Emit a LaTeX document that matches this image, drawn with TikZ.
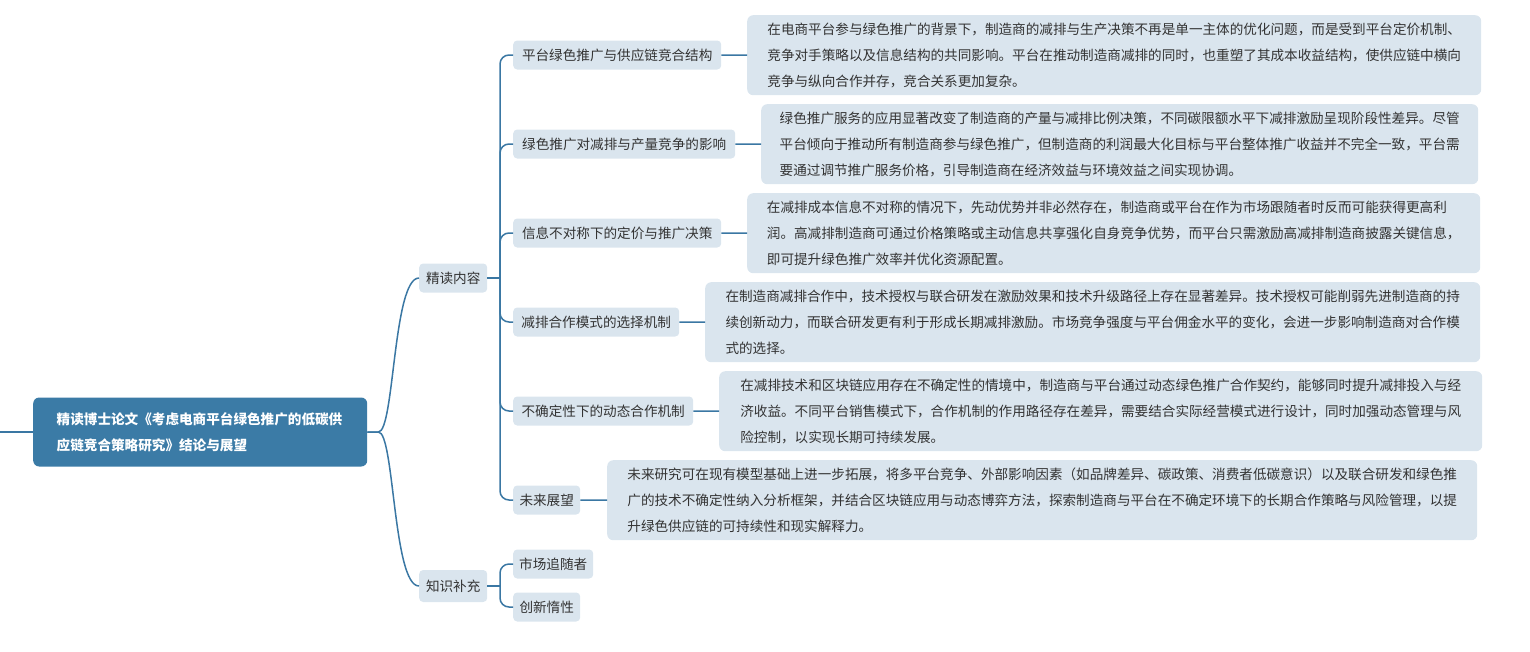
\documentclass[tikz,border=0pt]{standalone}
\usepackage{fontspec}
\setmainfont{Noto Sans CJK SC}
\begin{document}
\begin{tikzpicture}[x=1pt,y=-1pt,
  every node/.style={font=\fontsize{13.6}{26}\selectfont, text=txt, inner sep=0pt},
  l2/.style={fill=boxc, rounded corners=4pt, minimum height=29pt, anchor=west, align=center},
  det/.style={fill=boxc, rounded corners=6pt, anchor=north west, align=left, minimum height=80pt, inner xsep=7pt},
  conn/.style={draw=linec, line width=1.5pt}]
\definecolor{boxc}{HTML}{DAE5EE}
\definecolor{linec}{HTML}{3A77A3}
\definecolor{rootc}{HTML}{3B7BA6}
\definecolor{txt}{HTML}{333333}
\useasboundingbox (0,0) rectangle (1530,651);
% root
\node[fill=rootc, rounded corners=6pt, minimum width=334pt, minimum height=69pt, anchor=west, text=white, align=left, font=\fontsize{13.6}{26}\selectfont\bfseries] (root) at (33,432)
 {精读博士论文《考虑电商平台绿色推广的低碳供\\应链竞合策略研究》结论与展望\hspace*{7.1em}};
\coordinate (lend) at (0,432);
\draw[conn] (lend) -- (root.west);
% level1
\node[l2, minimum width=68pt] (k1) at (419,278) {精读内容};
\node[l2, minimum width=68pt, minimum height=32pt] (k2) at (419,586) {知识补充};
\draw[conn] (root.east) -- ++(11,0) .. controls +(16,0) and +(-26,0) .. (k1.west);
\draw[conn] (root.east) -- ++(11,0) .. controls +(16,0) and +(-26,0) .. (k2.west);
% level2
\node[l2, minimum width=208pt] (a1) at (513,55) {平台绿色推广与供应链竞合结构};
\node[l2, minimum width=222pt] (a2) at (513,144) {绿色推广对减排与产量竞争的影响};
\node[l2, minimum width=208pt] (a3) at (513,233) {信息不对称下的定价与推广决策};
\node[l2, minimum width=166pt] (a4) at (513,322) {减排合作模式的选择机制};
\node[l2, minimum width=180pt] (a5) at (513,411) {不确定性下的动态合作机制};
\node[l2, minimum width=67pt] (a6) at (513,500) {未来展望};
\node[l2, minimum width=80pt] (c1) at (513,564) {市场追随者};
\node[l2, minimum width=67pt] (c2) at (513,607) {创新惰性};
\coordinate (s1) at (500,278);
\coordinate (s2) at (500,586);
\draw[conn] (k1.east) -- (s1);
\draw[conn] (k2.east) -- (s2);
\foreach \n in {a1,a2,a3,a4,a5,a6} \draw[conn, rounded corners=9pt] (s1) |- (\n.west);
\foreach \n in {c1,c2} \draw[conn, rounded corners=9pt] (s2) |- (\n.west);
% details
\node[det, minimum width=734pt] (d1) at (747,15) {在电商平台参与绿色推广的背景下，制造商的减排与生产决策不再是单一主体的优化问题，而是受到平台定价机制、\\竞争对手策略以及信息结构的共同影响。平台在推动制造商减排的同时，也重塑了其成本收益结构，使供应链中横向\\竞争与纵向合作并存，竞合关系更加复杂。};
\node[det, minimum width=717pt] (d2) at (761,104) {绿色推广服务的应用显著改变了制造商的产量与减排比例决策，不同碳限额水平下减排激励呈现阶段性差异。尽管\\平台倾向于推动所有制造商参与绿色推广，但制造商的利润最大化目标与平台整体推广收益并不完全一致，平台需\\要通过调节推广服务价格，引导制造商在经济效益与环境效益之间实现协调。};
\node[det, minimum width=733pt] (d3) at (747,193) {在减排成本信息不对称的情况下，先动优势并非必然存在，制造商或平台在作为市场跟随者时反而可能获得更高利\\润。高减排制造商可通过价格策略或主动信息共享强化自身竞争优势，而平台只需激励高减排制造商披露关键信息，\\即可提升绿色推广效率并优化资源配置。};
\node[det, minimum width=775pt] (d4) at (705,282) {在制造商减排合作中，技术授权与联合研发在激励效果和技术升级路径上存在显著差异。技术授权可能削弱先进制造商的持\\续创新动力，而联合研发更有利于形成长期减排激励。市场竞争强度与平台佣金水平的变化，会进一步影响制造商对合作模\\式的选择。};
\node[det, minimum width=763pt] (d5) at (719,371) {在减排技术和区块链应用存在不确定性的情境中，制造商与平台通过动态绿色推广合作契约，能够同时提升减排投入与经\\济收益。不同平台销售模式下，合作机制的作用路径存在差异，需要结合实际经营模式进行设计，同时加强动态管理与风\\险控制，以实现长期可持续发展。};
\node[det, minimum width=870pt] (d6) at (607,460) {未来研究可在现有模型基础上进一步拓展，将多平台竞争、外部影响因素（如品牌差异、碳政策、消费者低碳意识）以及联合研发和绿色推\\广的技术不确定性纳入分析框架，并结合区块链应用与动态博弈方法，探索制造商与平台在不确定环境下的长期合作策略与风险管理，以提\\升绿色供应链的可持续性和现实解释力。};
\foreach \i in {1,...,6} \draw[conn] (a\i.east) -- (d\i.west);
\end{tikzpicture}
\end{document}
